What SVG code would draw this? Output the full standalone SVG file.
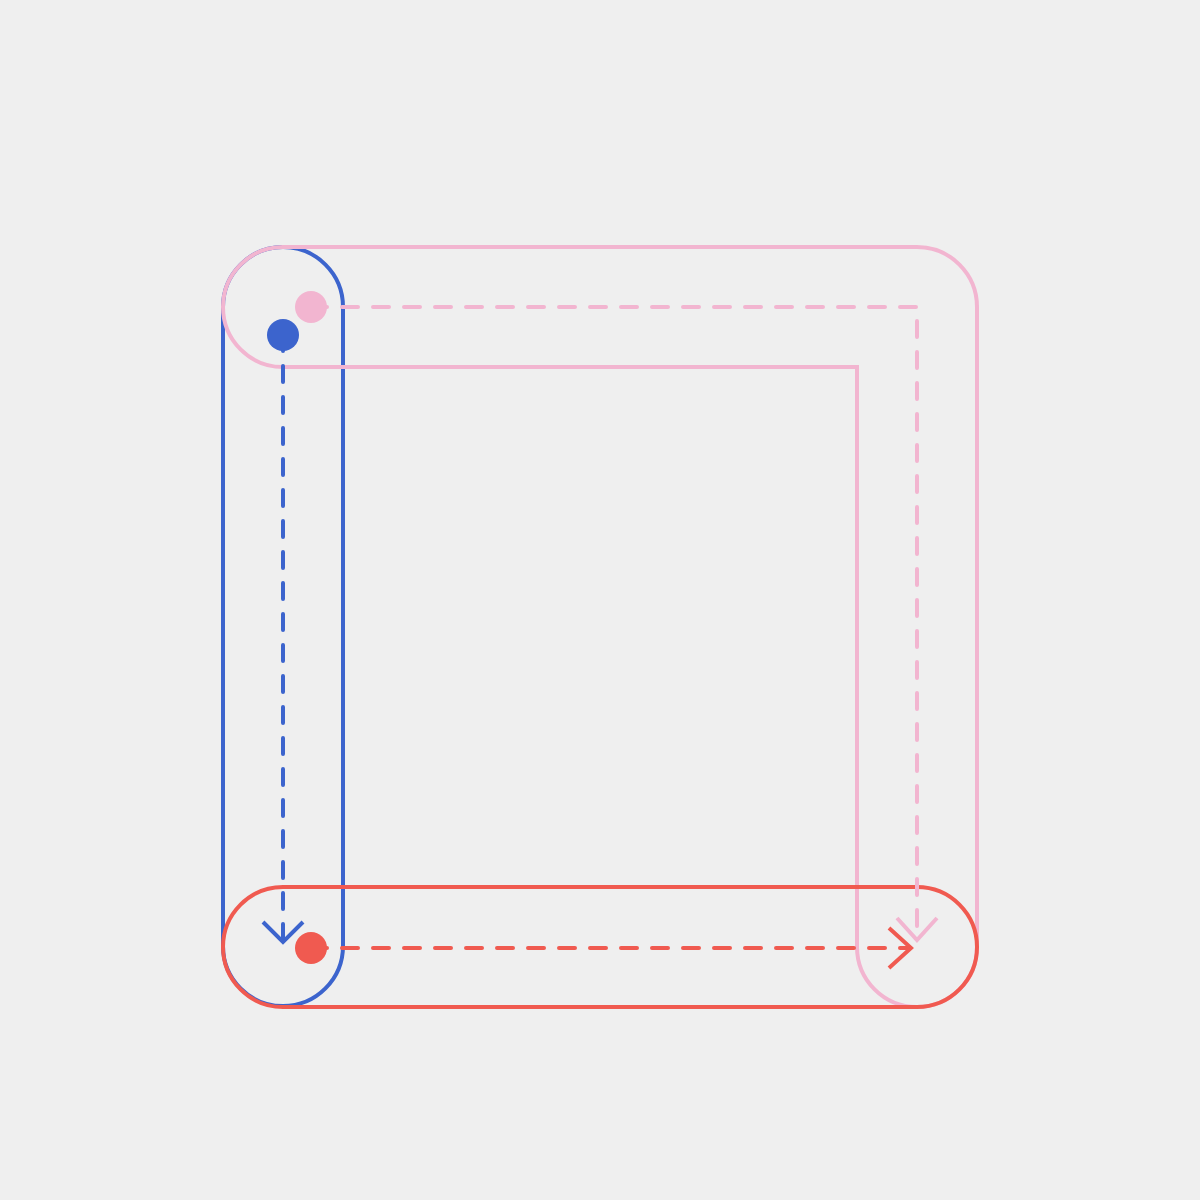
<svg xmlns="http://www.w3.org/2000/svg" width="1200" height="1200" viewBox="0 0 1200 1200">
<style>
.outline{fill:none;stroke-width:4}
.flow{fill:none;stroke-width:4;stroke-linecap:round;stroke-dasharray:16 15}
.head{fill:none;stroke-width:4}
.blue{stroke:#3c64cd}
.pink{stroke:#f2b5d0}
.red{stroke:#f05a50}
</style>
<rect width="1200" height="1200" fill="#efefef"/>
<g id="node-blue">
<rect class="outline blue" x="223" y="247" width="120" height="759" rx="60"/>
</g>
<g id="node-pink">
<path class="outline pink" stroke-width="3.5" d="M283 247H917A60 60 0 0 1 977 307V947A60 60 0 0 1 857 947V367H283A60 60 0 0 1 283 247Z"/>
</g>
<g id="node-red">
<rect class="outline red" x="223" y="887" width="754" height="120" rx="60"/>
</g>
<g id="connectors">
<path class="flow blue" d="M283 335V940"/>
<path class="head blue" d="M263 922L283 942L303 922"/>
<path class="flow pink" d="M311 307H917V940"/>
<path class="head pink" d="M897 918L917 940L937 918"/>
<path class="flow red" d="M311 948H908"/>
<path class="head red" d="M889 928L911 948L889 968"/>
</g>
<g id="dots">
<circle cx="311" cy="307" r="16" fill="#f2b5d0"/>
<circle cx="283" cy="335" r="16" fill="#3c64cd"/>
<circle cx="311" cy="948" r="16" fill="#f05a50"/>
</g>
</svg>
